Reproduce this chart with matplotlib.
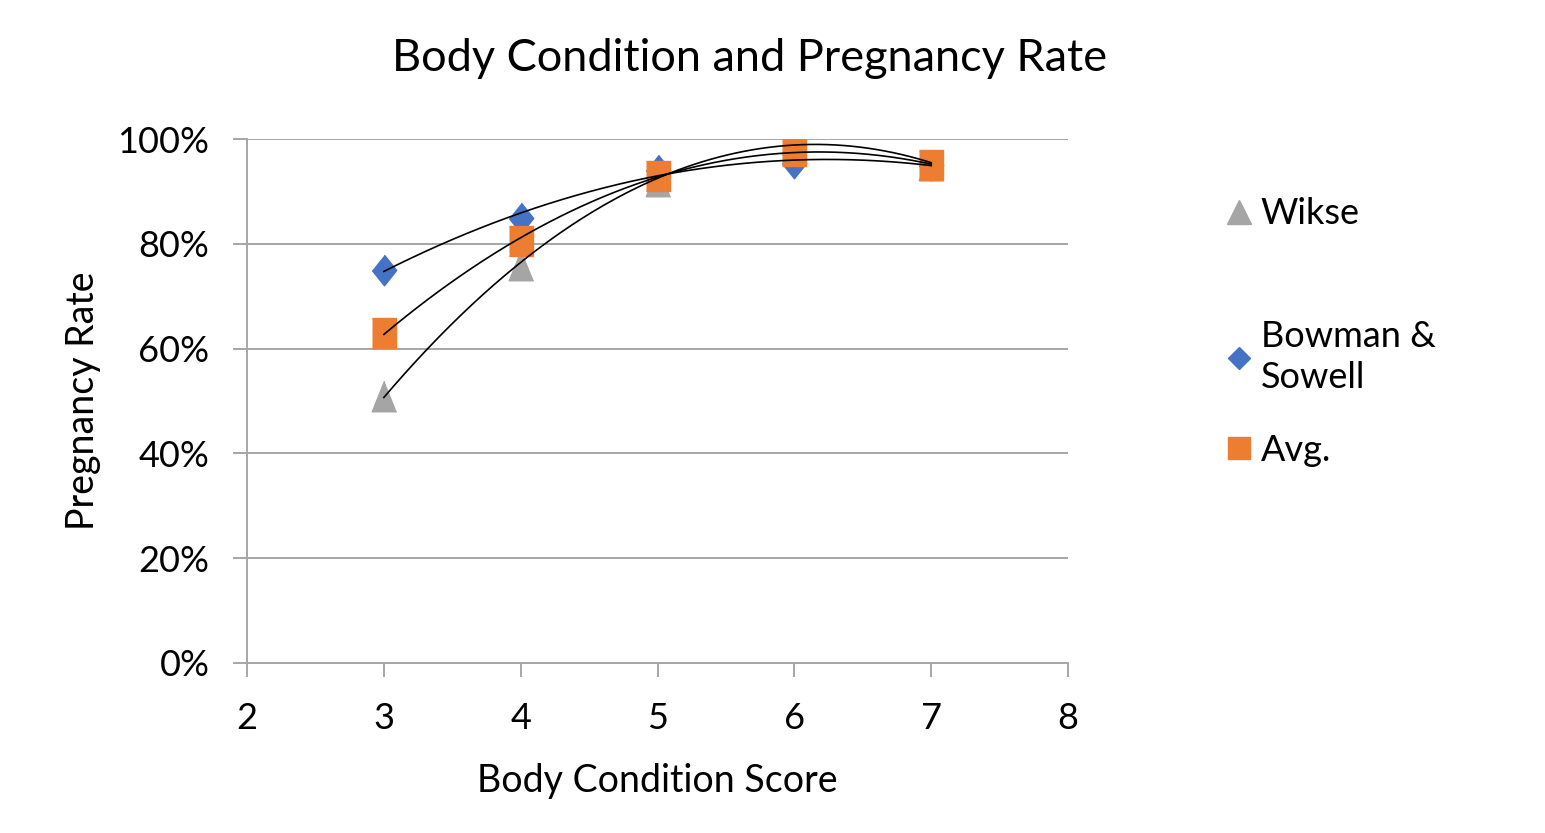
import matplotlib.pyplot as plt
import numpy as np
from matplotlib.lines import Line2D
from matplotlib.ticker import PercentFormatter

plt.rcParams['font.family'] = ['Lato', 'DejaVu Sans']

# data
scores = [3, 4, 5, 6, 7]
wikse = [51, 76, 92, 100, 95]
bowman = [75, 85, 94, 95.5, 95]
avg = [63, 80.5, 93, 97.75, 95]

GRAY = '#A5A5A5'
BLUE = '#4472C4'
ORANGE = '#ED7D31'
AXIS = '#A6A6A6'

# markers in the chart are stretched vertically
TRI = [(0, 1), (-0.8, -1), (0.8, -1)]
DIA = [(0, 1), (0.8, 0), (0, -1), (-0.8, 0)]
SQR = [(-0.8, -1), (0.8, -1), (0.8, 1), (-0.8, 1)]

fig = plt.figure(figsize=(15.45, 8.33), dpi=100)
ax = fig.add_axes([0.1599, 0.2041, 0.5314, 0.6290])

ax.plot(scores, wikse, ls='none', marker=TRI, ms=22, color=GRAY, zorder=3)
ax.plot(scores, bowman, ls='none', marker=DIA, ms=22, color=BLUE, zorder=3)
ax.plot(scores, avg, ls='none', marker=SQR, ms=22, color=ORANGE, zorder=4)

# polynomial (order 2) trendlines
xs = np.linspace(3, 7, 200)
for ys in (wikse, bowman, avg):
    c = np.polyfit(scores, ys, 2)
    ax.plot(xs, np.polyval(c, xs), color='black', lw=1.2, zorder=5)

ax.set_xlim(2, 8)
ax.set_ylim(0, 100)
ax.set_xticks(range(2, 9))
ax.set_yticks(range(0, 101, 20))
ax.yaxis.set_major_formatter(PercentFormatter(decimals=0))
ax.grid(axis='y', color=AXIS, lw=1.4, zorder=0)
for s in ('top', 'right'):
    ax.spines[s].set_visible(False)
for s in ('left', 'bottom'):
    ax.spines[s].set_color(AXIS)
    ax.spines[s].set_linewidth(1.4)
ax.tick_params(axis='x', length=10, width=1.4, color=AXIS, labelsize=26, pad=18)
ax.tick_params(axis='y', length=10, width=1.4, color=AXIS, labelsize=26, pad=17)

fig.text(0.485, 0.930, 'Body Condition and Pregnancy Rate', fontsize=32.5,
         ha='center', va='center')
ax.set_xlabel('Body Condition Score', fontsize=27, labelpad=20)
ax.set_ylabel('Pregnancy Rate', fontsize=27, labelpad=12)

h1 = [Line2D([], [], ls='none', marker='^', ms=17, color=GRAY)]
leg1 = ax.legend(h1, ['Wikse'], loc='center left', bbox_to_anchor=(1.1425, 0.857),
                 frameon=False, fontsize=26, handletextpad=0.0, handlelength=1.2)
ax.add_artist(leg1)
h2 = [Line2D([], [], ls='none', marker='D', ms=11.5, color=BLUE),
      Line2D([], [], ls='none', marker='s', ms=16, color=ORANGE)]
leg2 = ax.legend(h2, ['Bowman &\nSowell', 'Avg.'], loc='center left',
                 bbox_to_anchor=(1.1425, 0.515), frameon=False, fontsize=26,
                 handletextpad=0.0, handlelength=1.2, labelspacing=1.1)
for t in leg2.get_texts():
    t.set_linespacing(1.3)

fig.savefig('out.png')
